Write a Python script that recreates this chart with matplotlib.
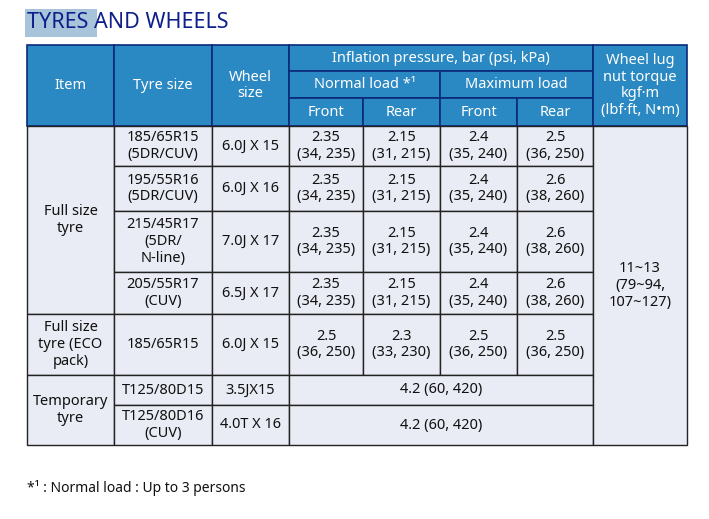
import matplotlib.pyplot as plt
from matplotlib.patches import Rectangle

# column edges and row edges in pixel coords
col_x = [27, 114, 212, 289, 363, 440, 517, 593, 687]
head_y = [45, 71, 98, 126]
row_y = [126, 166, 211, 272, 314, 375, 405, 445]

tyre_sizes = ["185/65R15\n(5DR/CUV)", "195/55R16\n(5DR/CUV)", "215/45R17\n(5DR/\nN-line)",
              "205/55R17\n(CUV)", "185/65R15", "T125/80D15", "T125/80D16\n(CUV)"]
wheel_sizes = ["6.0J X 15", "6.0J X 16", "7.0J X 17", "6.5J X 17", "6.0J X 15", "3.5JX15", "4.0T X 16"]
normal_front = ["2.35\n(34, 235)", "2.35\n(34, 235)", "2.35\n(34, 235)", "2.35\n(34, 235)", "2.5\n(36, 250)"]
normal_rear = ["2.15\n(31, 215)", "2.15\n(31, 215)", "2.15\n(31, 215)", "2.15\n(31, 215)", "2.3\n(33, 230)"]
max_front = ["2.4\n(35, 240)", "2.4\n(35, 240)", "2.4\n(35, 240)", "2.4\n(35, 240)", "2.5\n(36, 250)"]
max_rear = ["2.5\n(36, 250)", "2.6\n(38, 260)", "2.6\n(38, 260)", "2.6\n(38, 260)", "2.5\n(36, 250)"]
temp_pressure = ["4.2 (60, 420)", "4.2 (60, 420)"]
items = [("Full size\ntyre", 0, 4), ("Full size\ntyre (ECO\npack)", 4, 5), ("Temporary\ntyre", 5, 7)]
torque = "11~13\n(79~94,\n107~127)"

HEAD = "#2a88c2"
BODY = "#e9ecf4"
NAVY = "#0d1f8a"
FONT = "Noto Sans"

fig = plt.figure(figsize=(7.09, 5.19), dpi=100)
ax = fig.add_axes([0, 0, 1, 1])
ax.set_xlim(0, 709)
ax.set_ylim(519, 0)
ax.axis("off")


def cell(x0, x1, y0, y1, text, head=False, size=10.5):
    fc = HEAD if head else BODY
    ec = "#0a2a7a" if head else "#222222"
    ax.add_patch(Rectangle((x0, y0), x1 - x0, y1 - y0, fc=fc, ec=ec, lw=1.2 if head else 1.0))
    ax.text((x0 + x1) / 2, (y0 + y1) / 2, text, ha="center", va="center",
            fontsize=size, family=FONT, color="white" if head else "#111111",
            fontweight="bold" if head else "normal", linespacing=1.15)


# header
cell(col_x[0], col_x[1], head_y[0], head_y[3], "Item", True)
cell(col_x[1], col_x[2], head_y[0], head_y[3], "Tyre size", True)
cell(col_x[2], col_x[3], head_y[0], head_y[3], "Wheel\nsize", True)
cell(col_x[3], col_x[7], head_y[0], head_y[1], "Inflation pressure, bar (psi, kPa)", True)
cell(col_x[3], col_x[5], head_y[1], head_y[2], "Normal load *¹", True)
cell(col_x[5], col_x[7], head_y[1], head_y[2], "Maximum load", True)
for i, lab in enumerate(["Front", "Rear", "Front", "Rear"]):
    cell(col_x[3 + i], col_x[4 + i], head_y[2], head_y[3], lab, True)
cell(col_x[7], col_x[8], head_y[0], head_y[3], "Wheel lug\nnut torque\nkgf·m\n(lbf·ft, N•m)", True)

# body
for name, r0, r1 in items:
    cell(col_x[0], col_x[1], row_y[r0], row_y[r1], name)
for r in range(7):
    cell(col_x[1], col_x[2], row_y[r], row_y[r + 1], tyre_sizes[r])
    cell(col_x[2], col_x[3], row_y[r], row_y[r + 1], wheel_sizes[r])
for r in range(5):
    cols = [normal_front, normal_rear, max_front, max_rear]
    for c in range(4):
        cell(col_x[3 + c], col_x[4 + c], row_y[r], row_y[r + 1], cols[c][r])
for k in range(2):
    cell(col_x[3], col_x[7], row_y[5 + k], row_y[6 + k], temp_pressure[k])
cell(col_x[7], col_x[8], row_y[0], row_y[7], torque)

# title
ax.add_patch(Rectangle((25, 9), 72, 28, fc="#a8c4da", ec="none"))
ax.text(27, 23, "TYRES AND WHEELS", ha="left", va="center", fontsize=15.5,
        family=FONT, fontweight="bold", color=NAVY)

ax.text(27, 488, "*¹ : Normal load : Up to 3 persons", ha="left", va="center",
        fontsize=10, family=FONT, color="#111111")

fig.savefig("out.png", dpi=100)
